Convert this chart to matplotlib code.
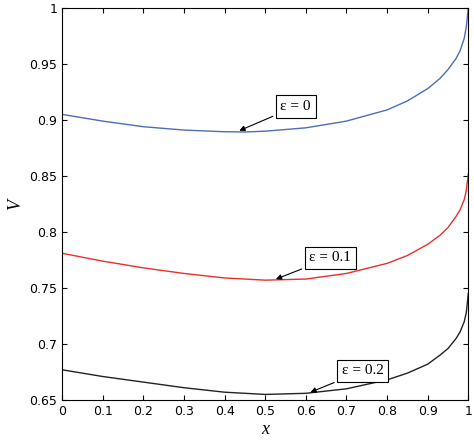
import matplotlib
matplotlib.use("Agg")
import matplotlib.pyplot as plt

x = [0, 0.1, 0.2, 0.3, 0.4, 0.45, 0.5, 0.6, 0.7, 0.8, 0.85, 0.9, 0.93, 0.95, 0.97, 0.98, 0.99, 0.995, 1.0]
v0 = [0.905, 0.899, 0.894, 0.891, 0.8895, 0.8893, 0.890, 0.893, 0.899, 0.909, 0.917, 0.928, 0.937, 0.945, 0.955, 0.962, 0.973, 0.983, 1.0]
v1 = [0.781, 0.774, 0.768, 0.763, 0.759, 0.758, 0.757, 0.758, 0.763, 0.772, 0.779, 0.789, 0.797, 0.804, 0.814, 0.820, 0.829, 0.837, 0.852]
v2 = [0.677, 0.671, 0.666, 0.661, 0.657, 0.656, 0.655, 0.656, 0.660, 0.668, 0.674, 0.682, 0.690, 0.696, 0.705, 0.711, 0.720, 0.728, 0.745]
labels = ["ε = 0", "ε = 0.1", "ε = 0.2"]

fig = plt.figure(figsize=(4.74, 4.43), dpi=100)
ax = fig.add_axes([0.131, 0.097, 0.857, 0.885])
ax.plot(x, v0, color="#4a6fb5", lw=1)
ax.plot(x, v1, color="#e8302c", lw=1)
ax.plot(x, v2, color="#222222", lw=1)
ax.set_xlim(0, 1)
ax.set_ylim(0.65, 1)
ax.set_xticks([i / 10 for i in range(11)])
ax.set_xticklabels(["0"] + [f"{i/10:g}" for i in range(1, 10)] + ["1"])
ax.set_yticks([0.65, 0.7, 0.75, 0.8, 0.85, 0.9, 0.95, 1])
ax.set_yticklabels(["0.65", "0.7", "0.75", "0.8", "0.85", "0.9", "0.95", "1"])
ax.tick_params(direction="in", labelsize=9, top=True, right=True)
ax.set_xlabel("x", style="italic", family="Liberation Serif", fontsize=13, labelpad=2)
ax.set_ylabel("V", style="italic", family="Liberation Serif", fontsize=13, labelpad=4)

bbox = dict(boxstyle="square,pad=0.3", fc="white", ec="black", lw=0.8)
arrow = dict(arrowstyle="-|>", color="black", lw=0.8, mutation_scale=8)
for lab, xy, xyt in [(labels[0], (0.43, 0.8895), (0.575, 0.912)),
                     (labels[1], (0.52, 0.757), (0.66, 0.777)),
                     (labels[2], (0.605, 0.656), (0.74, 0.676))]:
    ax.annotate(lab, xy=xy, xytext=xyt, ha="center", va="center",
                family="Liberation Serif", fontsize=11, bbox=bbox, arrowprops=arrow)
fig.savefig("out.png", dpi=100)
